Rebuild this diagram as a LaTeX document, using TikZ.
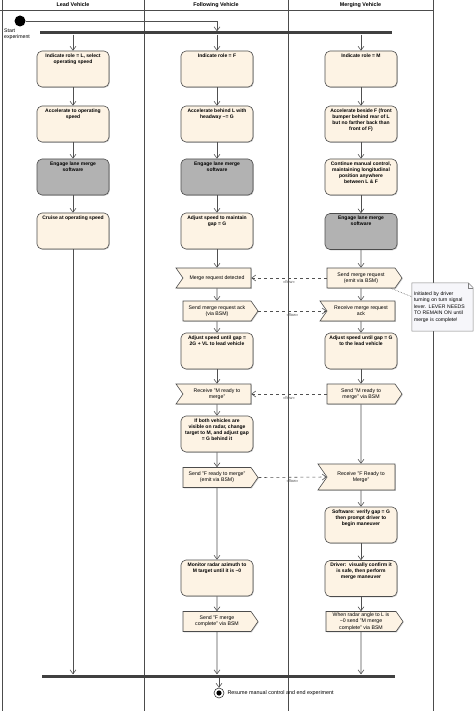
\documentclass[tikz,border=0pt]{standalone}
\usepackage{fontspec}
\setmainfont{Liberation Sans}
\usetikzlibrary{positioning, shapes, arrows.meta, shadows, calc}
\definecolor{actfill}{RGB}{253,243,228}
\definecolor{swfill}{RGB}{178,178,178}
\definecolor{linegray}{RGB}{80,80,80}
\definecolor{notefill}{RGB}{246,246,250}

\begin{document}
\begin{tikzpicture}[x=1pt, y=-1pt,
     font=\fontsize{5.2}{6.2}\selectfont,
     arrow/.style = {draw=linegray, line width=0.6pt,
       -{Straight Barb[length=4pt,width=6pt]}}, % styles of arrows
     flow/.style = {arrow, dashed},
     flowlbl/.style = {below=1.5pt, inner sep=0.5pt, text=linegray,
       font=\fontsize{4}{4.5}\selectfont},
     act/.style = {rectangle, rounded corners=5pt, draw=black!70,
       fill=actfill, line width=0.6pt, % styles of action nodes
       minimum width=72pt, minimum height=36pt, inner xsep=0pt, inner ysep=1pt,
       font=\fontsize{5}{6.1}\selectfont\bfseries,
       drop shadow={shadow xshift=0.8pt, shadow yshift=-0.8pt,
         fill=black!40, opacity=0.5},
       execute at begin node={\begin{minipage}[t][31pt][t]{72pt}\centering},
       execute at end node={\end{minipage}}},
     sw/.style = {act, fill=swfill},
     send/.style = {signal, signal to=east, signal from=nowhere,
       signal pointer angle=110, draw=black!70, fill=actfill,
       line width=0.6pt, minimum width=75pt, minimum height=20pt,
       inner sep=1pt, align=center, font=\fontsize{5.2}{6.2}\selectfont,
       drop shadow={shadow xshift=0.8pt, shadow yshift=-0.8pt,
         fill=black!40, opacity=0.5}},
     recv/.style = {send, signal to=nowhere, signal from=west},
     bar/.style = {rectangle, fill=black!75, inner sep=0pt,
       minimum height=3pt, minimum width=#1},
     lane/.style = {draw=black!70, line width=0.7pt},
     head/.style = {font=\fontsize{5.4}{6}\selectfont\bfseries},
     ]
     \useasboundingbox (0,0) rectangle (474,711);

     % swimlanes
     \draw[lane] (2,-1) rectangle (433,712);
     \draw[lane] (144,-1) -- (144,712) (288,-1) -- (288,712);
     \draw[lane] (0,10) -- (433,10);
     \node[head] (hL) at (73,5) {Lead Vehicle};
     \node[head] (hF) at (216,5) {Following Vehicle};
     \node[head] (hM) at (360.5,5) {Merging Vehicle};

     % start and fork
     \node[circle, fill=black, minimum size=11pt, inner sep=0pt] (start) at (20,21) {};
     \node[anchor=west, align=left, inner sep=0pt] (startlbl) at (4,34) {Start\\experiment};
     \node[bar=352pt] (fork) at (216,33) {};

     % lead vehicle
     \node[act] (L1) at (73,69) {Indicate role = L, select\\operating speed};
     \node[act] (L2) at (73,124) {Accelerate to operating\\speed};
     \node[sw]  (L3) at (73,177) {Engage lane merge\\software};
     \node[act] (L4) at (73,231) {Cruise at operating speed};

     % following vehicle
     \node[act]  (F1) at (217,69) {Indicate role = F};
     \node[act]  (F2) at (217,124) {Accelerate behind L with\\headway \textasciitilde= G};
     \node[sw]   (F3) at (217,177) {Engage lane merge\\software};
     \node[act]  (F4) at (217,231) {Adjust speed to maintain\\gap = G};
     \node[recv] (F5) at (217,278) {Merge request detected};
     \node[send] (F6) at (217,311) {Send merge request ack\\(via BSM)};
     \node[act]  (F7) at (217,351) {Adjust speed until gap =\\2G + VL to lead vehicle};
     \node[recv] (F8) at (217,394) {Receive "M ready to\\merge"};
     \node[act]  (F9) at (217,434) {If both vehicles are\\visible on radar, change\\target to M, and adjust gap\\= G behind it};
     \node[send] (F10) at (217,477.5) {Send "F ready to merge"\\(emit via BSM)};
     \node[act]  (F11) at (217,578) {Monitor radar azimuth to\\M target until it is \textasciitilde0};
     \node[send] (F12) at (217,621.5) {Send "F merge\\complete" via BSM};

     % merging vehicle
     \node[act]  (M1) at (361,69) {Indicate role = M};
     \node[act]  (M2) at (361,124) {Accelerate beside F (front\\bumper behind rear of L\\but no farther back than\\front of F)};
     \node[act]  (M3) at (361,177) {Continue manual control,\\maintaining longitudinal\\position anywhere\\between L \& F};
     \node[sw]   (M4) at (361,231.5) {Engage lane merge\\software};
     \node[send] (M5) at (361,278) {Send merge request\\(emit via BSM)};
     \node[recv] (M6) at (361,311) {Receive merge request\\ack};
     \node[act]  (M7) at (361,351) {Adjust speed until gap = G\\to the lead vehicle};
     \node[send] (M8) at (361,394) {Send "M ready to\\merge" via BSM};
     \node[recv, minimum width=77pt, minimum height=26pt] (M9) at (361,477) {Receive "F Ready to\\Merge"};
     \node[act]  (M10) at (361,525) {Software: verify gap = G\\then prompt driver to\\begin maneuver};
     \node[act]  (M11) at (361,578.5) {Driver:\ \ visually confirm it\\is safe, then perform\\merge maneuver};
     \node[send, minimum width=77pt] (M12) at (361,621.5) {When radar angle to L is\\\textasciitilde0 send "M merge\\complete" via BSM};

     % join and end
     \node[bar=353pt] (join) at (218.5,676) {};
     \node[circle, draw=black!80, fill=white, line width=0.6pt, minimum size=10pt,
       inner sep=0pt, path picture={\fill[black] (path picture bounding box.center)
         circle (2.6pt);}] (stop) at (219,693) {};
     \node[right=3pt of stop, inner sep=0pt, font=\fontsize{5.4}{6}\selectfont] (stoplbl) {Resume manual control and end experiment};

     % note
     \node[fill=notefill, minimum width=61pt, minimum height=48pt, inner sep=2pt,
       text width=57pt, align=left, font=\fontsize{5.1}{6.5}\selectfont] (note) at (442.5,307) {Initiated by driver\\turning on turn signal\\lever. LEVER NEEDS\\TO REMAIN ON until\\merge is complete!};
     \fill[white] ([xshift=-5pt]note.north east) -- (note.north east) -- ([yshift=-5pt]note.north east) -- cycle;
     \draw[draw=black!50, line width=0.5pt] (note.north west) -- ([xshift=-5pt]note.north east)
       -- ([yshift=-5pt]note.north east) -- (note.south east) -- (note.south west) -- cycle;
     \draw[draw=black!50, line width=0.5pt] ([xshift=-5pt]note.north east) |- ([yshift=-5pt]note.north east);
     \draw[draw=black!60, densely dotted, line width=0.6pt] (M5.-19) -- ([yshift=-14pt]note.north west);

     % control flow
     \draw[arrow] (start) -| (fork.north -| F1);
     \foreach \n in {L1, F1, M1}
     \draw[arrow] (fork.south -| \n) -- (\n);
     \foreach \a/\b in {L1/L2, L2/L3, L3/L4, F1/F2, F2/F3, F3/F4, F4/F5, F5/F6,
       F6/F7, F7/F8, F8/F9, F9/F10, F10/F11, F11/F12, M1/M2, M2/M3, M3/M4,
       M4/M5, M5/M6, M6/M7, M7/M8, M8/M9, M9/M10, M10/M11, M11/M12}
     \draw[arrow] (\a) -- (\b);
     \foreach \n in {L4, F12, M12}
     \draw[arrow] (\n) -- (\n |- join.north);
     \draw[arrow] (join.south -| stop) -- (stop);

     % signals between vehicles
     \draw[flow] (M5.west) -- node[flowlbl, midway] {«flow»} (F5.east);
     \draw[flow] (F6.east) -- node[flowlbl, midway] {«flow»} (M6.west);
     \draw[flow] (M8.west) -- node[flowlbl, midway] {«flow»} (F8.east);
     \draw[flow] (F10.east) -- node[flowlbl, midway] {«flow»} (M9.west);
   \end{tikzpicture}
\end{document}
